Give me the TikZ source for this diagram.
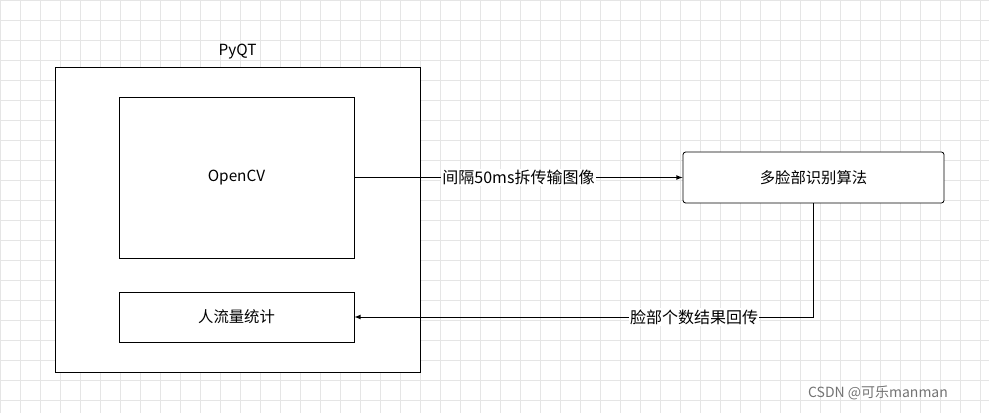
\documentclass[tikz,border=0pt]{standalone}
\usepackage{fontspec}
\setmainfont{Noto Sans CJK SC}
\usetikzlibrary{positioning}
\tikzset{
  box/.style={draw=black, semithick, fill=white, inner sep=0pt},
  lbl/.style={fill=white, inner sep=1pt, font=\fontsize{12}{14}\selectfont},
  link/.style={-latex, semithick},
  gridline/.style={black!10, line width=0.6pt}
}
\begin{document}
\begin{tikzpicture}[x=0.75pt, y=-0.75pt, font=\fontsize{11.5}{14}\selectfont]
  \useasboundingbox (0,0) rectangle (989,413);
  % background grid
  \foreach \gx in {0,20,...,980} \draw[gridline] (\gx,0) -- (\gx,413);
  \foreach \gy in {0,20,...,400} \draw[gridline] (0,\gy) -- (989,\gy);
  \node[box, minimum width=365*0.75pt, minimum height=305*0.75pt] (PYQT) at (237.5,219.5) {};
  \node[above=2pt of PYQT.north] (PYQTL) {PyQT};
  \node[box, minimum width=235*0.75pt, minimum height=161*0.75pt] (CV) at (236.5,177.5) {OpenCV};
  \node[box, minimum width=235*0.75pt, minimum height=50*0.75pt] (STAT) at (236.5,317) {人流量统计};
  \node[box, rounded corners=2pt, minimum width=261*0.75pt, minimum height=51*0.75pt] (ALG) at (813.5,177.5) {多脸部识别算法};
  \coordinate (BEND) at (ALG.south |- STAT.east);
  \draw[link] (CV.east) -- node[lbl] {间隔50ms拆传输图像} (ALG.west);
  \draw[link] (ALG.south) -- (BEND) -- node[lbl, pos=0.26] {脸部个数结果回传} (STAT.east);
  \node[text=black!55, font=\fontsize{10.5}{12}\selectfont] (MARK) at (878,393) {CSDN @可乐manman};
\end{tikzpicture}
\end{document}
